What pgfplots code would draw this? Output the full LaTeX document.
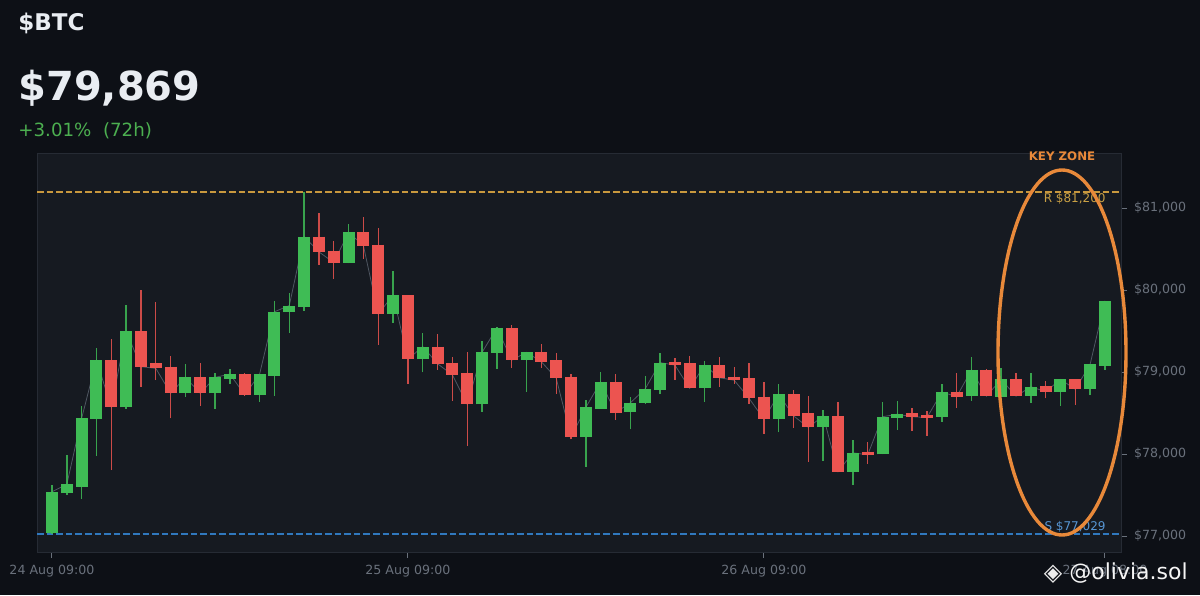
\documentclass[border=0pt]{standalone}
\usepackage{fontspec}
\setmainfont{DejaVu Sans}
\usepackage{pgfplots}
\pgfplotsset{compat=1.18}
\usepackage{pgfplotstable}
\definecolor{bgc}{HTML}{0D1016}
\definecolor{panel}{HTML}{161A21}
\definecolor{border}{HTML}{262B34}
\definecolor{tickc}{HTML}{6A717C}
\definecolor{cup}{HTML}{3FBC55}
\definecolor{cdn}{HTML}{EC5450}
\definecolor{rline}{RGB}{200,152,62}
\definecolor{sline}{RGB}{48,120,190}
\definecolor{resc}{HTML}{C9A044}
\definecolor{supc}{HTML}{3A84CC}
\definecolor{keyc}{HTML}{E8893A}
\definecolor{chg}{HTML}{4CAF50}
\definecolor{titlec}{HTML}{E9EDF2}
\definecolor{closec}{HTML}{4F5762}

\pgfplotstableread{
i o h l c u
0 77035 77620 77029 77540 1
1 77520 77990 77500 77630 1
2 77600 78580 77450 78435 1
3 78430 79290 77975 79145 1
4 79145 79400 77805 78570 0
5 78570 79815 78555 79500 1
6 79500 80000 78820 79065 0
7 79105 79855 78900 79045 0
8 79065 79195 78435 78740 0
9 78740 79095 78700 78935 1
10 78935 79115 78585 78740 0
11 78740 78990 78555 78935 1
12 78915 79035 78855 78975 1
13 78975 78985 78705 78720 0
14 78720 78975 78640 78975 1
15 78955 79870 78705 79735 1
16 79730 79960 79480 79810 1
17 79795 81200 79745 80650 1
18 80650 80945 80305 80465 0
19 80480 80600 80140 80335 0
20 80335 80805 80325 80705 1
21 80705 80885 80380 80540 0
22 80555 80760 79330 79705 0
23 79705 80235 79600 79940 1
24 79940 79945 78860 79155 0
25 79155 79470 78995 79310 1
26 79310 79460 79025 79100 0
27 79115 79180 78645 78965 0
28 78985 79240 78100 78605 0
29 78605 79380 78515 79240 1
30 79230 79545 79035 79540 1
31 79535 79575 79055 79145 0
32 79145 79245 78755 79240 1
33 79240 79340 79055 79125 0
34 79145 79235 78730 78925 0
35 78945 78975 78180 78205 0
36 78205 78660 77845 78570 1
37 78555 78995 78550 78880 1
38 78880 78975 78415 78505 0
39 78510 78700 78300 78625 1
40 78620 78950 78615 78795 1
41 78780 79235 78730 79115 1
42 79120 79165 78900 79085 0
43 79105 79200 78800 78800 0
44 78810 79140 78640 79085 1
45 79085 79185 78820 78930 0
46 78945 79065 78860 78900 0
47 78925 79105 78610 78680 0
48 78700 78875 78245 78425 0
49 78425 78855 78265 78730 1
50 78730 78780 78315 78465 0
51 78495 78705 77905 78325 0
52 78325 78535 77915 78465 1
53 78465 78630 77785 77785 0
54 77785 78170 77620 78015 1
55 78030 78150 77880 77990 0
56 77995 78630 77995 78455 1
57 78435 78650 78295 78485 1
58 78495 78565 78280 78455 0
59 78475 78530 78220 78445 0
60 78450 78855 78395 78755 1
61 78760 78985 78565 78700 0
62 78705 79185 78645 79025 1
63 79030 79035 78705 78705 0
64 78700 79045 78700 78910 1
65 78910 78985 78705 78705 0
66 78710 78985 78625 78820 1
67 78830 78890 78680 78760 0
68 78760 78910 78585 78910 1
69 78910 78915 78600 78790 0
70 78790 79095 78720 79095 1
71 79075 79870 79025 79869 1
}\btc

\pgfplotstableread{
x y
-1.01 81200
72.08 81200
}\resline
\pgfplotstableread{
x y
-1.01 77029
72.08 77029
}\supline

\begin{document}
\begin{tikzpicture}
\fill[bgc] (0,0) rectangle (600pt,-297.5pt);
\begin{axis}[
  at={(18.5pt,-276pt)}, anchor=south west,
  scale only axis, width=542pt, height=199.5pt,
  xmin=-1.01, xmax=72.08, ymin=76805, ymax=81671,
  axis background/.style={fill=panel},
  axis line style={draw=border, line width=0.5pt},
  scaled y ticks=false,
  xtick={0,24,48,71},
  xticklabels={24 Aug 09:00,25 Aug 09:00,26 Aug 09:00,27 Aug 08:00},
  ytick={77000,78000,79000,80000,81000},
  yticklabels={{\$77,000},{\$78,000},{\$79,000},{\$80,000},{\$81,000}},
  xtick pos=bottom, ytick pos=right, yticklabel pos=right,
  tick align=outside, major tick length=3pt,
  tick style={draw=tickc, line width=0.5pt},
  ticklabel style={font=\fontsize{6.3}{7.5}\selectfont, text=tickc},
]
\addplot[rline, mark=none, line width=0.9pt, dash pattern=on 3.3pt off 1.5pt] table[x=x, y=y] {\resline};
\addplot[sline, mark=none, line width=0.9pt, dash pattern=on 3.3pt off 1.5pt] table[x=x, y=y] {\supline};
\addplot[color=closec, mark=none, line width=0.4pt] table[x=i, y=c] {\btc};
% wicks
\addplot[color=cup, mark=none, -, line width=0.7pt, opacity=0.85,
  restrict expr to domain={\thisrow{u}}{0.5:1.5},
  quiver={u=0, v=\thisrow{h}-\thisrow{l}}]
  table[x=i, y=l] {\btc};
\addplot[color=cdn, mark=none, -, line width=0.7pt, opacity=0.85,
  restrict expr to domain={\thisrow{u}}{-0.5:0.5},
  quiver={u=0, v=\thisrow{h}-\thisrow{l}}]
  table[x=i, y=l] {\btc};
% bodies
\addplot[color=cup, mark=none, -, line width=6pt,
  restrict expr to domain={\thisrow{u}}{0.5:1.5},
  quiver={u=0, v=\thisrow{c}-\thisrow{o}}]
  table[x=i, y=o] {\btc};
\addplot[color=cdn, mark=none, -, line width=6pt,
  restrict expr to domain={\thisrow{u}}{-0.5:0.5},
  quiver={u=0, v=\thisrow{c}-\thisrow{o}}]
  table[x=i, y=o] {\btc};
\end{axis}
\begin{scope}[x=0.5pt, y=-0.5pt]
\node[anchor=base west, inner sep=0, text=titlec, font=\bfseries\fontsize{11.5}{13}\selectfont] at (18,30) {\$BTC};
\node[anchor=base west, inner sep=0, text=titlec, font=\bfseries\fontsize{20}{24}\selectfont] at (18,100) {\$79,869};
\node[anchor=base west, inner sep=0, text=chg, font=\fontsize{9.1}{11}\selectfont] at (18,136) {+3.01\%\ \ (72h)};
\node[anchor=base, inner sep=0, text=keyc, font=\bfseries\fontsize{5.9}{7}\selectfont] at (1062,160) {KEY ZONE};
\node[anchor=base east, inner sep=0, text=resc, font=\fontsize{6}{7}\selectfont] at (1106,202) {R \$81,200};
\node[anchor=base east, inner sep=0, text=supc!85!white, font=\fontsize{6}{7}\selectfont] at (1106,530) {S \$77,029};
\draw[keyc, line width=1.7pt] (1062,352.5) ellipse [x radius=32pt, y radius=91.25pt];
\node[anchor=base, inner sep=0, text=white!85!gray, font=\fontsize{12}{14}\selectfont] at (1053,580) {◈};
\node[anchor=base west, inner sep=0, text=white!92!gray, font=\fontsize{11}{13}\selectfont] at (1069,579) {@olivia.sol};
\end{scope}
\end{tikzpicture}
\end{document}
